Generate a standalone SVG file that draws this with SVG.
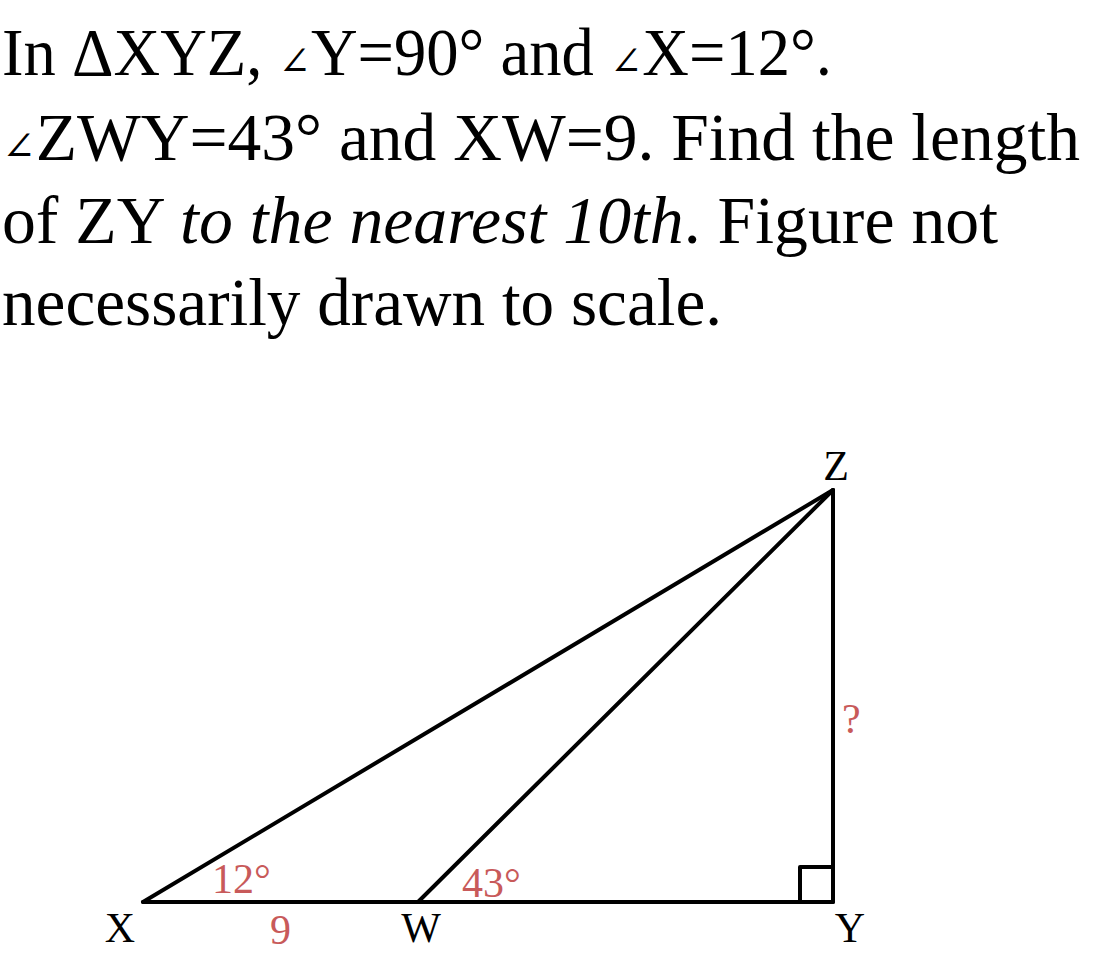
<svg xmlns="http://www.w3.org/2000/svg" width="1107" height="960" viewBox="0 0 1107 960">
<style>
.q{font-family:"Liberation Serif","DejaVu Serif",serif;font-size:67px;fill:#000}
.ang{font-size:40px}
.lbl{font-family:"Liberation Serif","DejaVu Serif",serif;font-size:42px;fill:#000;text-anchor:middle}
.red{font-family:"Liberation Serif","DejaVu Serif",serif;font-size:42px;fill:#c85a5a}
.edge{stroke:#000;stroke-width:4;fill:none;stroke-linecap:round;stroke-linejoin:round}
</style>
<rect width="1107" height="960" fill="#fff"/>
<g id="question">
<text class="q" x="2" y="75" textLength="830" lengthAdjust="spacingAndGlyphs">In ΔXYZ, <tspan class="ang">∠</tspan>Y=90° and <tspan class="ang">∠</tspan>X=12°.</text>
<text class="q" x="2" y="160" textLength="1078" lengthAdjust="spacingAndGlyphs"><tspan class="ang">∠</tspan>ZWY=43° and XW=9. Find the length</text>
<text class="q" x="2" y="243" textLength="996" lengthAdjust="spacingAndGlyphs">of ZY <tspan font-style="italic">to the nearest 10th</tspan>. Figure not</text>
<text class="q" x="2" y="325" textLength="720" lengthAdjust="spacingAndGlyphs">necessarily drawn to scale.</text>
</g>
<g id="connectors">
<line class="edge" x1="143" y1="902" x2="833" y2="902"/>
<line class="edge" x1="833" y1="902" x2="833" y2="490"/>
<line class="edge" x1="143" y1="902" x2="833" y2="490"/>
<line class="edge" x1="418" y1="902" x2="833" y2="490"/>
<polyline class="edge" points="800,902 800,867 833,867"/>
</g>
<g id="node-X"><text class="lbl" x="120" y="942">X</text></g>
<g id="node-W"><text class="lbl" x="421" y="942">W</text></g>
<g id="node-Y"><text class="lbl" x="850" y="942">Y</text></g>
<g id="node-Z"><text class="lbl" x="836" y="480">Z</text></g>
<g id="labels">
<text class="red" x="212" y="893">12°</text>
<text class="red" x="462" y="897">43°</text>
<text class="red" x="270" y="944">9</text>
<text class="red" x="842" y="733">?</text>
</g>
</svg>
